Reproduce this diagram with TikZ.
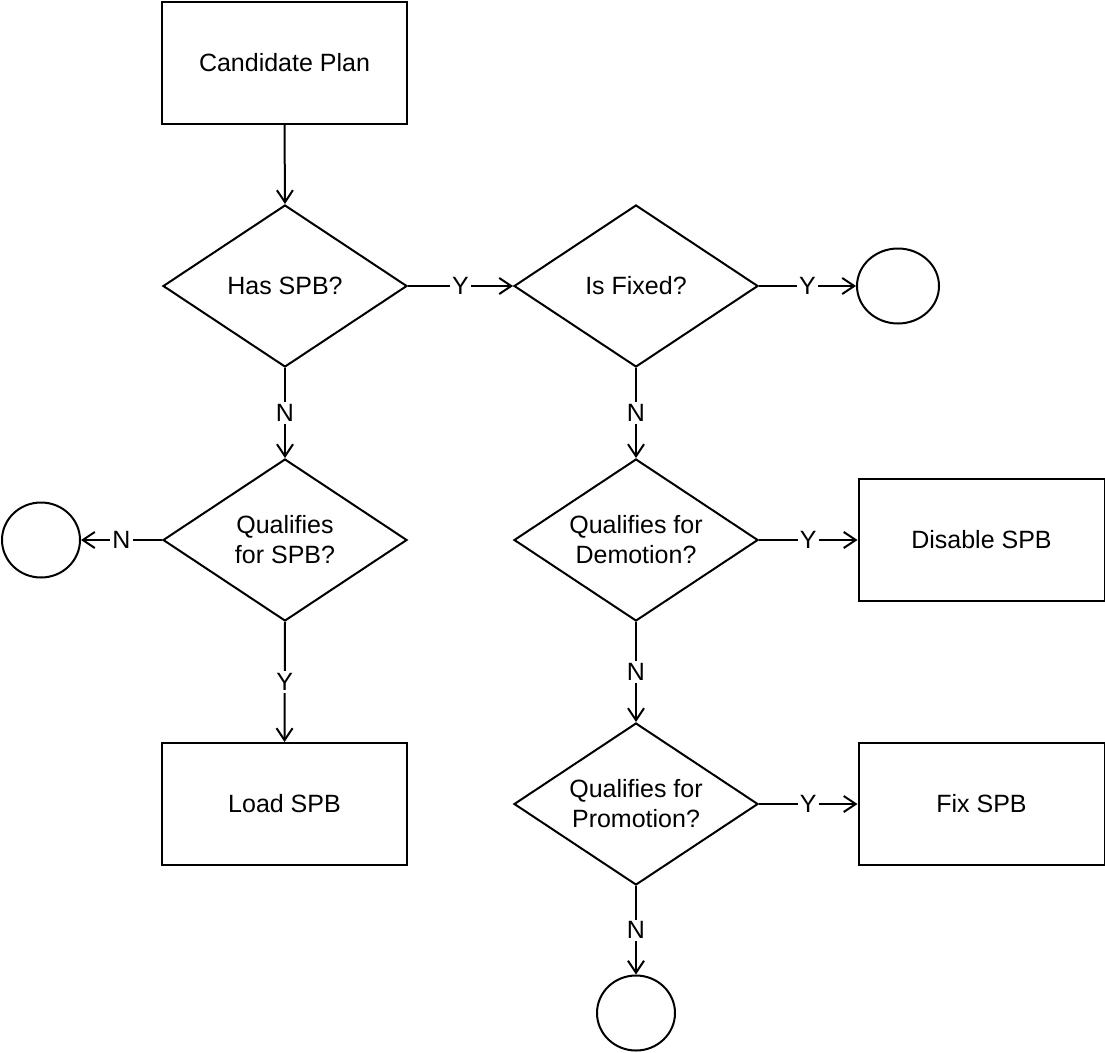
\documentclass[tikz,border=0pt]{standalone}
\usepackage{fontspec}
\setmainfont{Liberation Sans}
\usetikzlibrary{shapes.geometric,arrows.meta}
\begin{document}
\begin{tikzpicture}[x=1pt,y=-1pt,line width=2pt,
  box/.style={draw,rectangle,minimum width=245pt,minimum height=122pt,inner sep=0pt},
  dia/.style={draw,diamond,minimum width=244pt,minimum height=162pt,inner sep=0pt},
  term/.style={draw,ellipse,minimum width=78pt,minimum height=75pt,inner sep=0pt},
  txt/.style={align=center,font=\fontsize{25}{30}\selectfont},
  arr/.style={-{Straight Barb[length=12pt,width=16pt]}},
  lab/.style={fill=white,inner sep=2pt,font=\fontsize{25}{30}\selectfont}]
\useasboundingbox (0,0) rectangle (1105,1052);
\node[box] (cp) at (284.5,63) {}; \node[txt] (cpt) at (cp) {Candidate Plan};
\node[dia] (has) at (285,286) {}; \node[txt] (hast) at (has) {Has SPB?};
\node[dia] (fix) at (636,286) {}; \node[txt] (fixt) at (fix) {Is Fixed?};
\node[term,minimum width=82pt] (c1) at (898,286) {};
\node[dia] (qs) at (285,540) {}; \node[txt] (qst) at (qs) {Qualifies\\for SPB?};
\node[term] (c2) at (41,540) {};
\node[box] (load) at (284.5,804) {}; \node[txt] (loadt) at (load) {Load SPB};
\node[dia] (qd) at (636,540) {}; \node[txt] (qdt) at (qd) {Qualifies for\\Demotion?};
\node[box,minimum width=246pt] (dis) at (981.5,540) {}; \node[txt] (dist) at (dis) {Disable SPB};
\node[dia] (qp) at (636,804) {}; \node[txt] (qpt) at (qp) {Qualifies for\\Promotion?};
\node[box,minimum width=246pt] (fx) at (981.5,804) {}; \node[txt] (fxt) at (fx) {Fix SPB};
\node[term] (c3) at (636,1013) {};
\draw[arr] (cp.south) -- (has.north);
\draw[arr] (has.east) -- node[lab]{Y} (fix.west);
\draw[arr] (fix.east) -- node[lab]{Y} (c1.west);
\draw[arr] (has.south) -- node[lab]{N} (qs.north);
\draw[arr] (qs.west) -- node[lab]{N} (c2.east);
\draw[arr] (qs.south) -- node[lab]{Y} (load.north);
\draw[arr] (fix.south) -- node[lab]{N} (qd.north);
\draw[arr] (qd.east) -- node[lab]{Y} (dis.west);
\draw[arr] (qd.south) -- node[lab]{N} (qp.north);
\draw[arr] (qp.east) -- node[lab]{Y} (fx.west);
\draw[arr] (qp.south) -- node[lab]{N} (c3.north);
\end{tikzpicture}
\end{document}
